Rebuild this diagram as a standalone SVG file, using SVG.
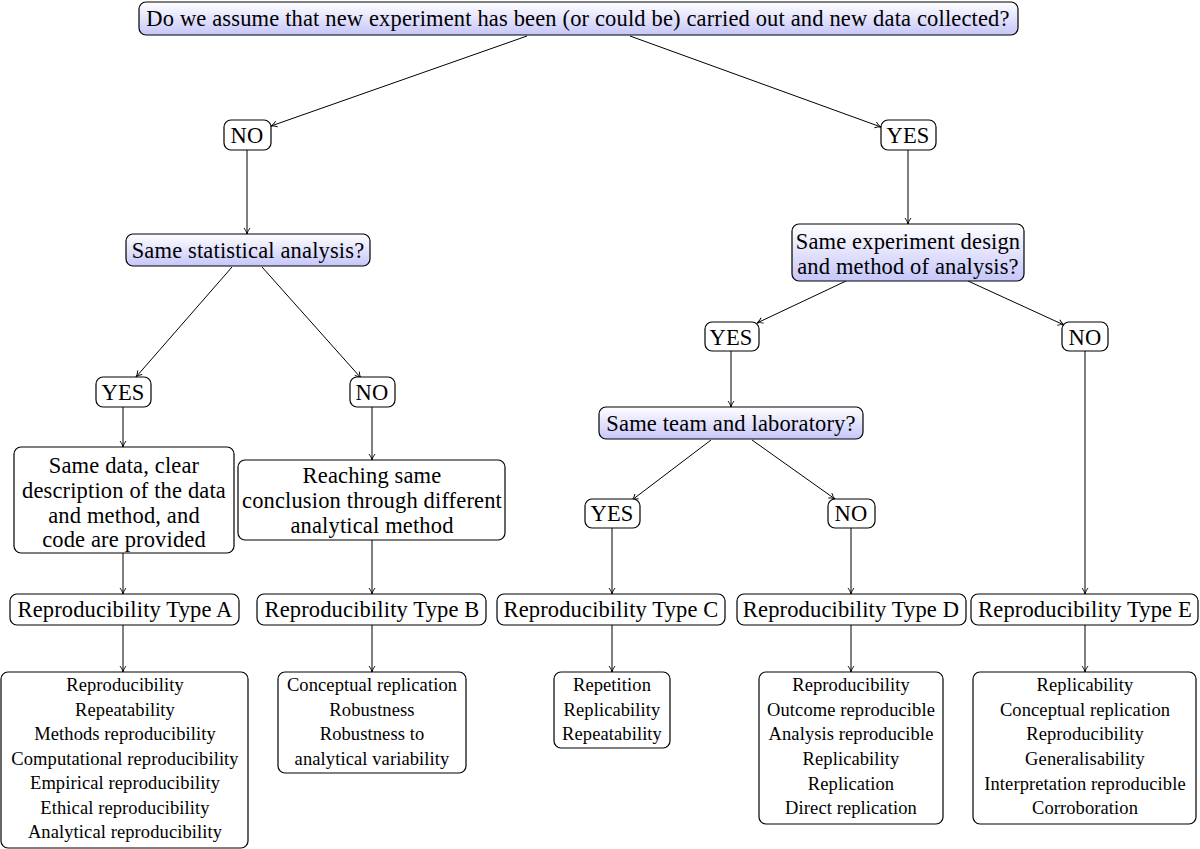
<svg xmlns="http://www.w3.org/2000/svg" width="1200" height="849" viewBox="0 0 1200 849">
<style>
text{font-family:"Liberation Serif","DejaVu Serif",serif;fill:#000;text-anchor:middle;dominant-baseline:central}
.b{fill:#fff;stroke:#000;stroke-width:1.2}
.q{fill:url(#g);stroke:#000;stroke-width:1.2}
.t{font-size:22.5px;letter-spacing:0.15px}
.s{font-size:18.5px;letter-spacing:0.1px}
.c line{stroke:#000;stroke-width:1;marker-end:url(#a)}
</style>
<defs>
<linearGradient id="g" x1="0" y1="0" x2="0" y2="1">
<stop offset="0" stop-color="#ffffff"/>
<stop offset="1" stop-color="#c6c6fa"/>
</linearGradient>
<marker id="a" markerWidth="8" markerHeight="8" refX="7" refY="4" orient="auto" markerUnits="userSpaceOnUse">
<path d="M1,1 Q4,3.5 7,4 Q4,4.5 1,7" fill="none" stroke="#000" stroke-width="0.9"/>
</marker>
</defs>
<rect width="1200" height="849" fill="#fff"/>
<g class="c">
<line x1="527" y1="36" x2="271" y2="126"/>
<line x1="630" y1="36" x2="881" y2="127"/>
<line x1="247" y1="150" x2="247" y2="234"/>
<line x1="232" y1="267" x2="136" y2="377"/>
<line x1="262" y1="267" x2="361" y2="378"/>
<line x1="123" y1="407" x2="123" y2="447"/>
<line x1="372" y1="407" x2="372" y2="460"/>
<line x1="123" y1="553" x2="123" y2="594"/>
<line x1="372" y1="540" x2="372" y2="594"/>
<line x1="123" y1="625" x2="123" y2="672"/>
<line x1="372" y1="625" x2="372" y2="672"/>
<line x1="908" y1="150" x2="908" y2="224"/>
<line x1="846" y1="281" x2="757" y2="323"/>
<line x1="968" y1="281" x2="1064" y2="325"/>
<line x1="731" y1="351" x2="731" y2="407"/>
<line x1="711" y1="440" x2="632" y2="500"/>
<line x1="752" y1="440" x2="835" y2="499"/>
<line x1="612" y1="528" x2="612" y2="594"/>
<line x1="851" y1="528" x2="851" y2="594"/>
<line x1="1085" y1="351" x2="1085" y2="594"/>
<line x1="612" y1="625" x2="612" y2="672"/>
<line x1="851" y1="625" x2="851" y2="672"/>
<line x1="1085" y1="625" x2="1085" y2="672"/>
</g>
<g id="q0"><rect class="q" x="139" y="2" width="879" height="33" rx="7"/><text class="t" x="578" y="18">Do we assume that new experiment has been (or could be) carried out and new data collected?</text></g>
<g id="no1"><rect class="b" x="224" y="120" width="47" height="30" rx="7"/><text class="t" x="247" y="135">NO</text></g>
<g id="yes1"><rect class="b" x="881" y="120" width="55" height="30" rx="7"/><text class="t" x="908" y="135">YES</text></g>
<g id="q1"><rect class="q" x="126" y="234" width="244" height="32" rx="7"/><text class="t" x="248" y="250">Same statistical analysis?</text></g>
<g id="yes2"><rect class="b" x="96" y="377" width="55" height="30" rx="7"/><text class="t" x="123" y="392">YES</text></g>
<g id="no2"><rect class="b" x="350" y="377" width="45" height="30" rx="7"/><text class="t" x="372" y="392">NO</text></g>
<g id="d1"><rect class="b" x="14" y="447" width="220" height="106" rx="7"/>
<text class="t" x="124" y="465">Same data, clear</text><text class="t" x="124" y="490">description of the data</text><text class="t" x="124" y="515">and method, and</text><text class="t" x="124" y="539">code are provided</text></g>
<g id="d2"><rect class="b" x="238" y="460" width="267" height="80" rx="7"/>
<text class="t" x="372" y="475">Reaching same</text><text class="t" x="372" y="500">conclusion through different</text><text class="t" x="372" y="525">analytical method</text></g>
<g id="tA"><rect class="b" x="10" y="594" width="229" height="31" rx="7"/><text class="t" x="125" y="609">Reproducibility Type A</text></g>
<g id="tB"><rect class="b" x="257" y="594" width="229" height="31" rx="7"/><text class="t" x="372" y="609">Reproducibility Type B</text></g>
<g id="lA"><rect class="b" x="1" y="672" width="247" height="176" rx="7"/>
<text class="s" x="125" y="685">Reproducibility</text><text class="s" x="125" y="710">Repeatability</text><text class="s" x="125" y="734">Methods reproducibility</text><text class="s" x="125" y="759">Computational reproducibility</text><text class="s" x="125" y="783">Empirical reproducibility</text><text class="s" x="125" y="808">Ethical reproducibility</text><text class="s" x="125" y="832">Analytical reproducibility</text></g>
<g id="lB"><rect class="b" x="278" y="672" width="188" height="101" rx="7"/>
<text class="s" x="372" y="685">Conceptual replication</text><text class="s" x="372" y="710">Robustness</text><text class="s" x="372" y="734">Robustness to</text><text class="s" x="372" y="759">analytical variability</text></g>
<g id="q2"><rect class="q" x="792" y="224" width="232" height="57" rx="7"/><text class="t" x="908" y="241">Same experiment design</text><text class="t" x="908" y="266">and method of analysis?</text></g>
<g id="yes3"><rect class="b" x="705" y="322" width="54" height="29" rx="7"/><text class="t" x="731" y="337">YES</text></g>
<g id="no3"><rect class="b" x="1062" y="322" width="46" height="29" rx="7"/><text class="t" x="1085" y="337">NO</text></g>
<g id="q3"><rect class="q" x="599" y="407" width="264" height="32" rx="7"/><text class="t" x="731" y="423">Same team and laboratory?</text></g>
<g id="yes4"><rect class="b" x="585" y="499" width="55" height="29" rx="7"/><text class="t" x="612" y="513">YES</text></g>
<g id="no4"><rect class="b" x="828" y="499" width="47" height="29" rx="7"/><text class="t" x="851" y="513">NO</text></g>
<g id="tC"><rect class="b" x="497" y="594" width="228" height="31" rx="7"/><text class="t" x="611" y="609">Reproducibility Type C</text></g>
<g id="tD"><rect class="b" x="737" y="594" width="229" height="31" rx="7"/><text class="t" x="851" y="609">Reproducibility Type D</text></g>
<g id="tE"><rect class="b" x="971" y="594" width="227" height="31" rx="7"/><text class="t" x="1085" y="609">Reproducibility Type E</text></g>
<g id="lC"><rect class="b" x="554" y="672" width="116" height="76" rx="7"/>
<text class="s" x="612" y="685">Repetition</text><text class="s" x="612" y="710">Replicability</text><text class="s" x="612" y="734">Repeatability</text></g>
<g id="lD"><rect class="b" x="759" y="672" width="184" height="152" rx="7"/>
<text class="s" x="851" y="685">Reproducibility</text><text class="s" x="851" y="710">Outcome reproducible</text><text class="s" x="851" y="734">Analysis reproducible</text><text class="s" x="851" y="759">Replicability</text><text class="s" x="851" y="784">Replication</text><text class="s" x="851" y="808">Direct replication</text></g>
<g id="lE"><rect class="b" x="973" y="672" width="223" height="152" rx="7"/>
<text class="s" x="1085" y="685">Replicability</text><text class="s" x="1085" y="710">Conceptual replication</text><text class="s" x="1085" y="734">Reproducibility</text><text class="s" x="1085" y="759">Generalisability</text><text class="s" x="1085" y="784">Interpretation reproducible</text><text class="s" x="1085" y="808">Corroboration</text></g>
</svg>
